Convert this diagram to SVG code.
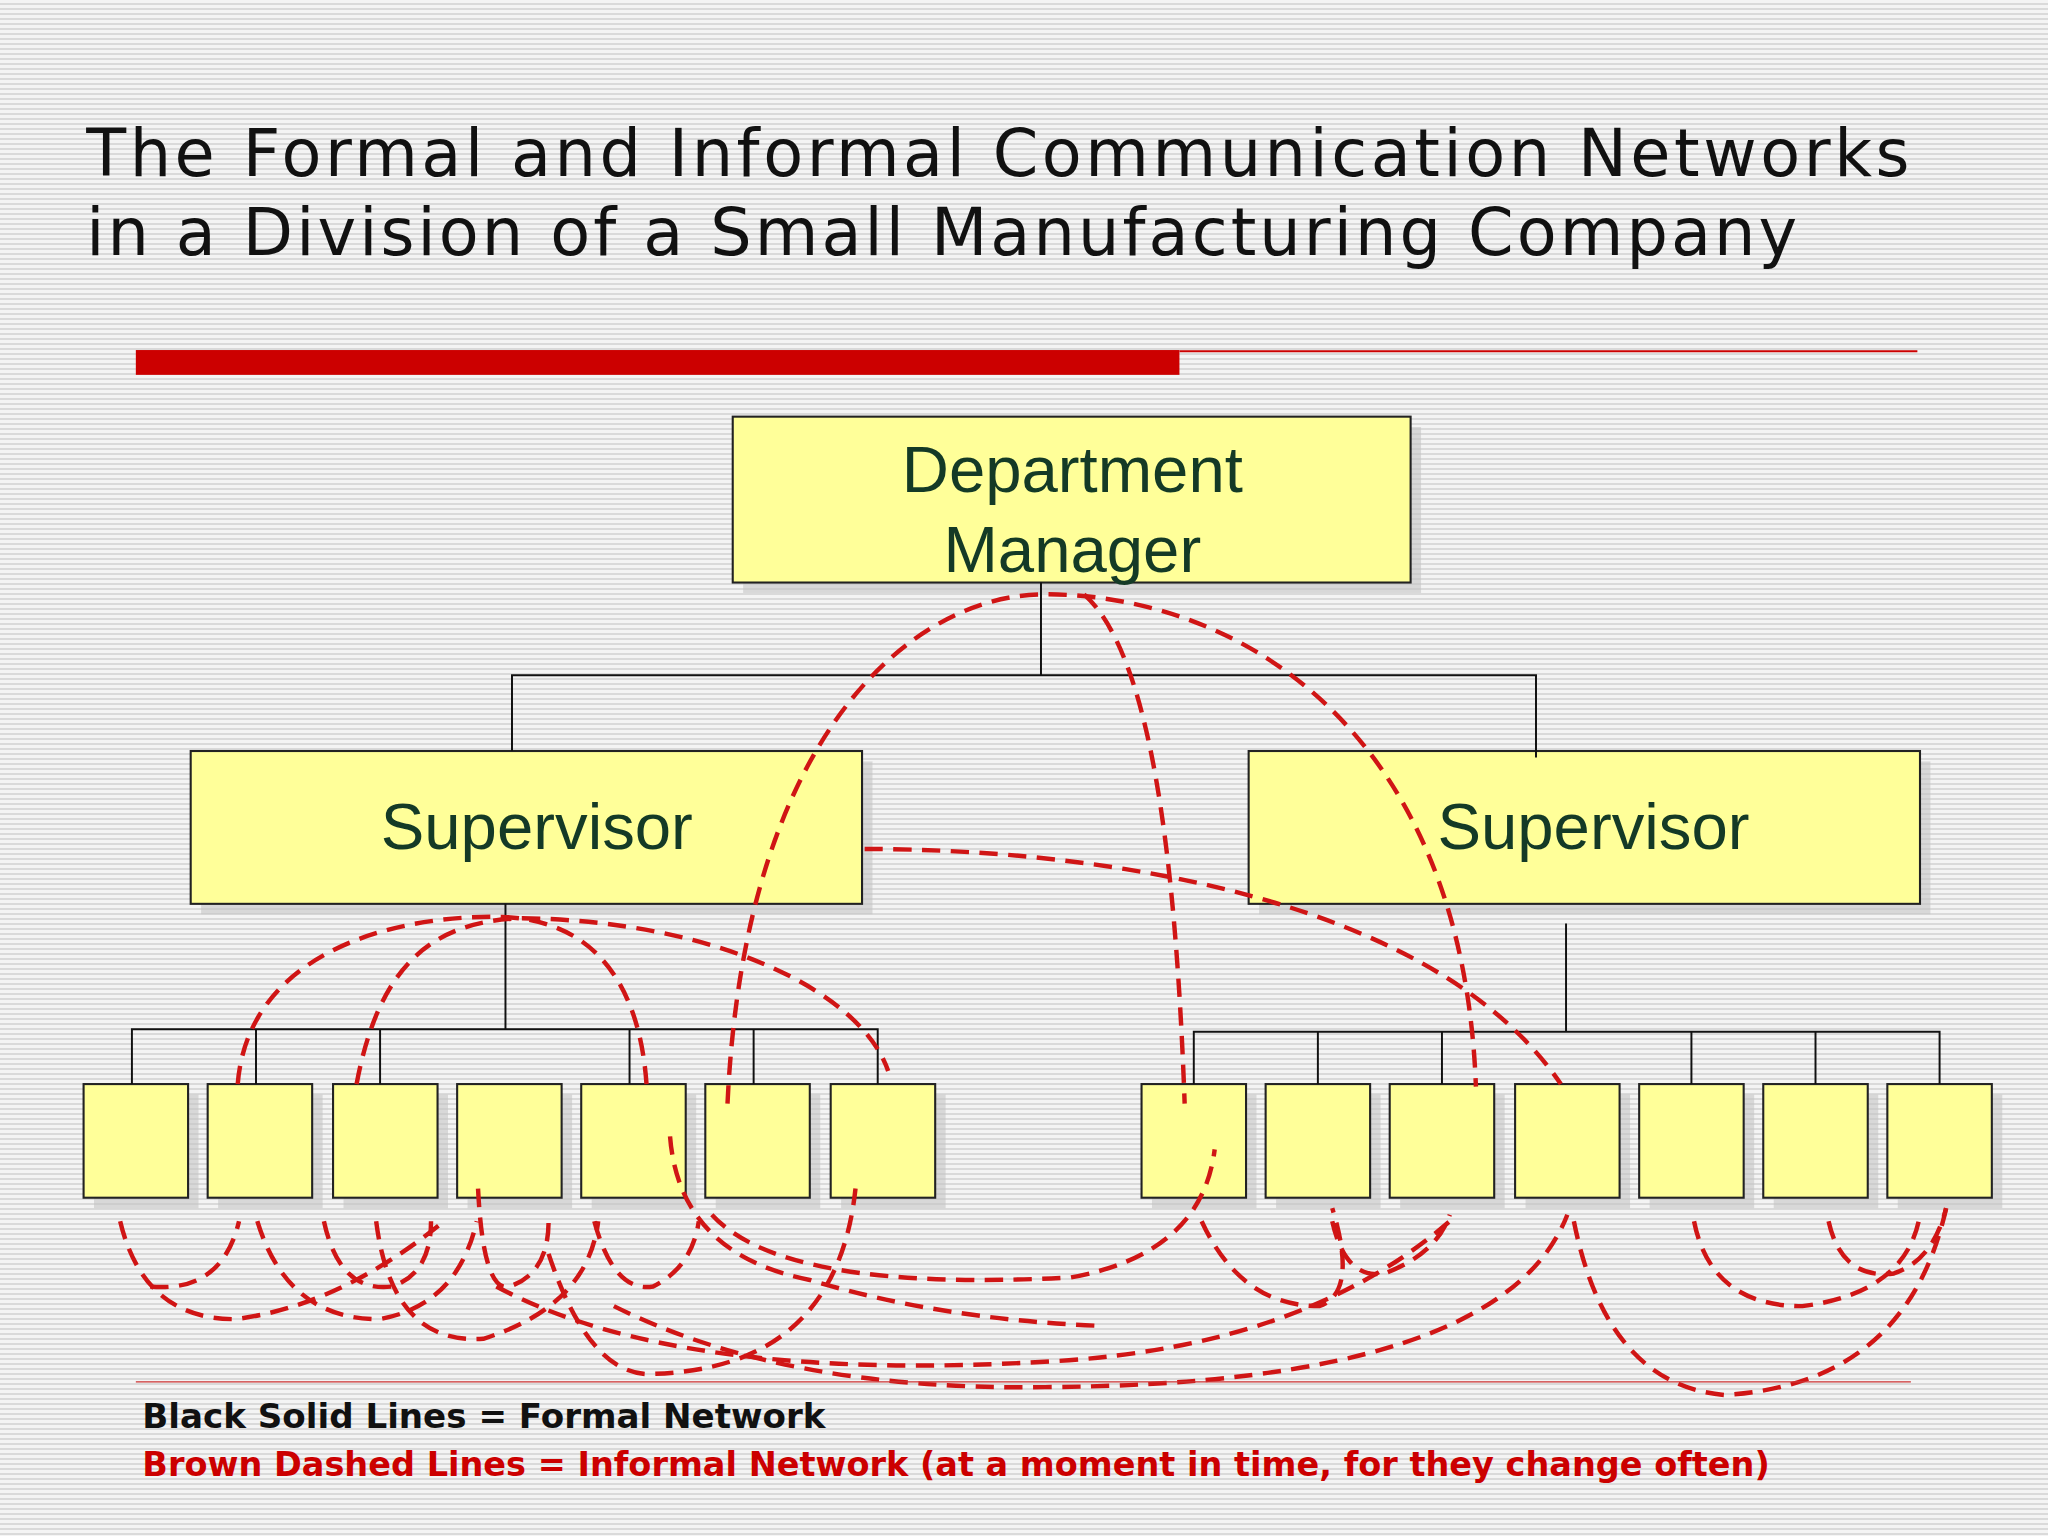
<svg xmlns="http://www.w3.org/2000/svg" width="2048" height="1536" viewBox="0 0 2048 1536">
<defs>
<pattern id="bg" width="8" height="5" patternUnits="userSpaceOnUse">
<rect width="8" height="5" fill="#f4f4f4"/><rect y="3" width="8" height="2" fill="#dadada"/>
</pattern>
<style>
.box{fill:#ffff99;stroke:#222;stroke-width:1.6}
.sh{fill:#c4c4c4;opacity:.6}
.ln{fill:none;stroke:#111;stroke-width:1.5}
.d{fill:none;stroke:#d01515;stroke-width:3.4;stroke-dasharray:14 8}
.big{font-family:"Liberation Sans",Arial,sans-serif;font-size:50px;fill:#143a26;text-anchor:middle}
</style>
</defs>
<rect width="2048" height="1536" fill="url(#bg)"/>
<g transform="scale(1.30612)">
<text x="66" y="135" font-family="DejaVu Sans,sans-serif" font-size="50" fill="#111" textLength="1396" lengthAdjust="spacing">The Formal and Informal Communication Networks</text>
<text x="66" y="195" font-family="DejaVu Sans,sans-serif" font-size="50" fill="#111" textLength="1310" lengthAdjust="spacing">in a Division of a Small Manufacturing Company</text>
<rect x="104" y="268" width="799" height="19" fill="#cc0000"/>
<line x1="903" y1="269" x2="1468" y2="269" stroke="#cc0000" stroke-width="1.5"/>
<g id="manager"><rect class="sh" x="569" y="327" width="519" height="127"/><rect class="box" x="561" y="319" width="519" height="127"/>
<text class="big" x="821" y="377">Department</text><text class="big" x="821" y="438">Manager</text></g>
<g id="sup-left"><rect class="sh" x="154" y="583" width="514" height="117"/><rect class="box" x="146" y="575" width="514" height="117"/><text class="big" x="411" y="650">Supervisor</text></g>
<g id="sup-right"><rect class="sh" x="964" y="583" width="514" height="117"/><rect class="box" x="956" y="575" width="514" height="117"/><text class="big" x="1220" y="650">Supervisor</text></g>
<g id="workers-left">
<rect class="sh" x="72" y="838" width="80" height="87"/><rect class="box" x="64" y="830" width="80" height="87"/>
<rect class="sh" x="167" y="838" width="80" height="87"/><rect class="box" x="159" y="830" width="80" height="87"/>
<rect class="sh" x="263" y="838" width="80" height="87"/><rect class="box" x="255" y="830" width="80" height="87"/>
<rect class="sh" x="358" y="838" width="80" height="87"/><rect class="box" x="350" y="830" width="80" height="87"/>
<rect class="sh" x="453" y="838" width="80" height="87"/><rect class="box" x="445" y="830" width="80" height="87"/>
<rect class="sh" x="548" y="838" width="80" height="87"/><rect class="box" x="540" y="830" width="80" height="87"/>
<rect class="sh" x="644" y="838" width="80" height="87"/><rect class="box" x="636" y="830" width="80" height="87"/>
</g>
<g id="workers-right">
<rect class="sh" x="882" y="838" width="80" height="87"/><rect class="box" x="874" y="830" width="80" height="87"/>
<rect class="sh" x="977" y="838" width="80" height="87"/><rect class="box" x="969" y="830" width="80" height="87"/>
<rect class="sh" x="1072" y="838" width="80" height="87"/><rect class="box" x="1064" y="830" width="80" height="87"/>
<rect class="sh" x="1168" y="838" width="80" height="87"/><rect class="box" x="1160" y="830" width="80" height="87"/>
<rect class="sh" x="1263" y="838" width="80" height="87"/><rect class="box" x="1255" y="830" width="80" height="87"/>
<rect class="sh" x="1358" y="838" width="80" height="87"/><rect class="box" x="1350" y="830" width="80" height="87"/>
<rect class="sh" x="1453" y="838" width="80" height="87"/><rect class="box" x="1445" y="830" width="80" height="87"/>
</g>
<g id="connectors">
<path class="ln" d="M797,446V517M392,575V517H1176V580M387,692V788M101,830V788H672V830M196,788V830M291,788V830M482,788V830M577,788V830M1199,707V790M914,830V790H1485V830M1009,790V830M1104,790V830M1295,790V830M1390,790V830"/>
<path class="d" d="M557,845 C570,560 700,455 800,455 C950,455 1120,560 1130,832"/>
<path class="d" d="M830,455 C880,500 900,650 907,845"/>
<path class="d" d="M662,650 C850,650 1100,690 1195,830"/>
<path class="d" d="M182,830 C190,730 300,700 385,702 C460,705 490,760 495,830"/>
<path class="d" d="M273,830 C290,740 330,705 400,703 C550,705 660,760 680,820"/>
<path class="d" d="M92,935 Q110,1010 180,1010 Q260,1000 340,935"/>
<path class="d" d="M115,985 Q170,990 183,935"/>
<path class="d" d="M197,935 Q220,1010 290,1010 Q350,1000 365,935"/>
<path class="d" d="M248,935 Q260,990 300,985 Q330,975 330,935"/>
<path class="d" d="M288,935 Q300,1030 370,1025 Q450,1000 458,935"/>
<path class="d" d="M366,910 Q370,990 390,985 Q420,975 420,935"/>
<path class="d" d="M420,960 Q450,1050 495,1052 Q640,1050 655,910"/>
<path class="d" d="M455,935 Q470,990 500,985 Q530,970 535,935"/>
<path class="d" d="M380,985 Q520,1060 810,1042 Q1000,1030 1110,935"/>
<path class="d" d="M545,930 Q600,990 820,978 Q920,960 930,880"/>
<path class="d" d="M513,870 Q520,960 620,980 Q720,1010 840,1015"/>
<path class="d" d="M470,1000 Q600,1065 800,1062 Q1150,1060 1200,930"/>
<path class="d" d="M920,935 Q950,1000 1010,1000 Q1040,990 1020,925"/>
<path class="d" d="M1020,935 Q1030,980 1060,975 Q1100,960 1110,930"/>
<path class="d" d="M1205,935 Q1230,1060 1320,1068 Q1460,1060 1490,925"/>
<path class="d" d="M1297,935 Q1310,1000 1380,1000 Q1460,990 1470,930"/>
<path class="d" d="M1400,935 Q1410,980 1450,975 Q1480,965 1490,925"/>
</g>
<line x1="104" y1="1058" x2="1463" y2="1058" stroke="#cc3333" stroke-width="1"/>
<text x="109" y="1093" font-family="DejaVu Sans,sans-serif" font-weight="bold" font-size="26" fill="#111" textLength="523" lengthAdjust="spacingAndGlyphs">Black Solid Lines = Formal Network</text>
<text x="109" y="1130" font-family="DejaVu Sans,sans-serif" font-weight="bold" font-size="26" fill="#cc0000" textLength="1246" lengthAdjust="spacingAndGlyphs">Brown Dashed Lines = Informal Network (at a moment in time, for they change often)</text>
</g>
</svg>
